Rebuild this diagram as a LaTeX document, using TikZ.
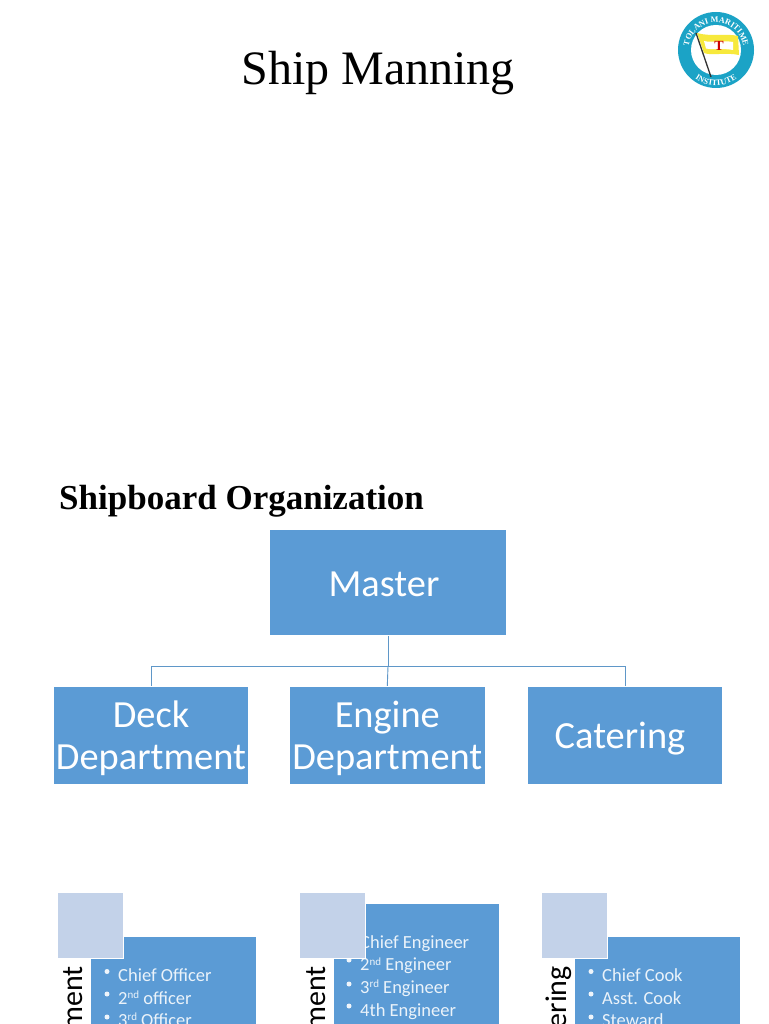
\documentclass[tikz,border=0pt]{standalone}
\usepackage{fontspec}
\setmainfont{Liberation Serif}
\newfontfamily\calfont{Carlito}
\usetikzlibrary{decorations.text}
\definecolor{boxblue}{HTML}{5B9BD5}
\definecolor{paleblue}{HTML}{C3D2E9}
\definecolor{linkblue}{HTML}{5F97C8}
\definecolor{ringblue}{HTML}{1BA3C6}
\definecolor{flagyellow}{HTML}{F7E93C}
\newcommand{\sh}[1]{\raisebox{5.5pt}{\fontsize{11}{11}\selectfont #1}}
\newcommand{\dn}{\rule{0pt}{33pt}}
\tikzset{
  x=1pt,y=-1pt,
  topbox/.style={fill=boxblue,draw=white,line width=.6pt,inner sep=0pt,text=white,font=\calfont\fontsize{38.4}{42}\selectfont,align=center},
  bodybox/.style={fill=boxblue,draw=white,line width=.6pt,anchor=north west,inner sep=0pt,minimum width=166pt,minimum height=150pt},
  square/.style={fill=paleblue,draw=white,line width=.8pt,anchor=north west,inner sep=0pt,minimum width=66pt,minimum height=66pt},
  item/.style={anchor=base west,inner sep=0pt,text=white!88!boxblue,font=\calfont\fontsize{18.5}{20}\selectfont},
  dot/.style={circle,fill=white!90!boxblue,inner sep=0pt,minimum size=5pt},
  side/.style={rotate=90,anchor=base east,inner sep=0pt,font=\calfont\fontsize{30}{32}\selectfont},
  link/.style={draw=linkblue,line width=.9pt},
  ringtext/.style={decorate,decoration={text along path,text align=center,text={|\fontsize{8.2}{8.5}\selectfont\bfseries\color{white}|#1}}}
}
\begin{document}
\begin{tikzpicture}
\useasboundingbox (0,0) rectangle (768,1024);
\clip (0,0) rectangle (768,1024);
\fill[white] (0,0) rectangle (768,1024);

\node[font=\fontsize{48}{52}\selectfont,anchor=base,inner sep=0pt] (title) at (378,85) {Ship Manning};
\node[font=\bfseries\fontsize{35}{40}\selectfont,anchor=base west,inner sep=0pt] (sub) at (59,509) {Shipboard Organization};

% logo
\fill[ringblue] (716,50) circle (38);
\fill[white] (716,50) circle (25);
\fill[flagyellow] (697,33) .. controls (710,37) and (725,33) .. (738,36) -- (739,55) .. controls (725,52) and (712,56) .. (704,53) -- cycle;
\fill[white] (704,41) .. controls (712,43) and (722,40) .. (733,42) -- (733,50) .. controls (722,48) and (712,50) .. (706,48.5) -- cycle;
\node[font=\bfseries\fontsize{14}{14}\selectfont,text=red!80!black,inner sep=0pt] (logoT) at (719,46) {T};
\draw[black!80,line width=1.3pt] (696,33) -- (711,77);
\path[ringtext={TOLANI MARITIME}] (716,50) ++(-200:27.5) arc[start angle=-200,end angle=20,radius=27.5];
\path[ringtext={INSTITUTE}] (716,50) ++(145:35.5) arc[start angle=145,end angle=35,radius=35.5];

% chart
\node[topbox,minimum width=237pt,minimum height=106pt] (master) at (388,582.5) {\hspace*{-8pt}\rule{0pt}{29pt}Master};
\node[topbox,minimum width=195.5pt,minimum height=98pt] (deck) at (151,735.2) {\dn Deck\\Department};
\node[topbox,minimum width=195.5pt,minimum height=98pt] (engine) at (387.3,735.2) {\dn Engine\\Department};
\node[topbox,minimum width=195.5pt,minimum height=98pt] (catering) at (625,735.2) {\hspace*{-10pt}\dn Catering};
\draw[link] (master.south) -- (388,666) coordinate (hub) -| (deck.north);
\draw[link] (hub) -| (catering.north);
\draw[link] (hub) -- (engine.north);

% deck panel
\node[bodybox] (b1) at (90,936) {};
\node[side] (s1) at (82.5,966) {ment};
\node[dot] (d11) at (107,971.5) {};
\node[dot] (d12) at (107,994) {};
\node[dot] (d13) at (107,1017) {};
\node[item] (t11) at (118,981.5) {Chief Officer};
\node[item] (t12) at (118,1004) {2\sh{nd} officer};
\node[item] (t13) at (118,1026) {3\sh{rd} Officer};
\node[square] (q1) at (56.5,892) {};

% engine panel
\node[bodybox] (b2) at (332.5,902.5) {};
\node[side] (s2) at (325,966) {ment};
\node[dot] (d22) at (349,960) {};
\node[dot] (d23) at (349,984) {};
\node[dot] (d24) at (349,1006) {};
\node[item] (t21) at (360,948) {Chief Engineer};
\node[item] (t22) at (360,970.5) {2\sh{nd} Engineer};
\node[item] (t23) at (360,993) {3\sh{rd} Engineer};
\node[item] (t24) at (360,1016) {4th Engineer};
\node[square] (q2) at (299,892) {};

% catering panel
\node[bodybox] (b3) at (574,936) {};
\node[side] (s3) at (566.7,966) {ering};
\node[dot] (d31) at (591,971.5) {};
\node[dot] (d32) at (591,994) {};
\node[dot] (d33) at (591,1017) {};
\node[item] (t31) at (602,981.5) {Chief Cook};
\node[item] (t32) at (602,1004) {Asst. Cook};
\node[item] (t33) at (602,1026) {Steward};
\node[square] (q3) at (540.8,892) {};
\end{tikzpicture}
\end{document}
